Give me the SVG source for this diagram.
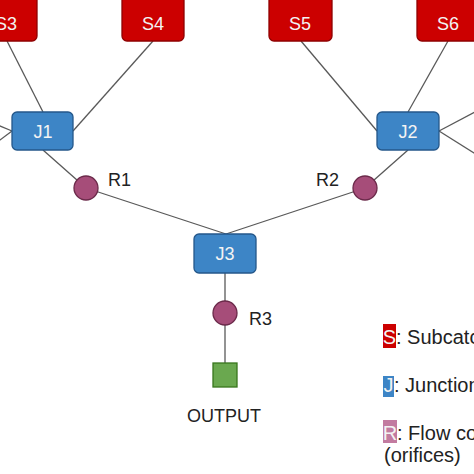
<svg xmlns="http://www.w3.org/2000/svg" width="474" height="474" viewBox="0 0 474 474">
<style>
.edge{stroke:#595959;stroke-width:1.3;fill:none}
.s{fill:#cc0000;stroke:#8f0000;stroke-width:1.3}
.j{fill:#3d85c6;stroke:#24578a;stroke-width:1.3}
.r{fill:#a64d79;stroke:#6b2a4a;stroke-width:1.3}
.o{fill:#6aa84f;stroke:#38761d;stroke-width:1.3}
.nt{font-family:"Liberation Sans",Arial,sans-serif;font-size:18px;fill:#f3f3f3;text-anchor:middle}
.lb{font-family:"Liberation Sans",Arial,sans-serif;font-size:18px;fill:#222}
.lg{font-family:"Liberation Sans",Arial,sans-serif;font-size:20px;fill:#222}
.lgl{font-family:"Liberation Sans",Arial,sans-serif;font-size:20px;fill:#f3f3f3;text-anchor:middle}
</style>
<rect width="474" height="474" fill="#fff"/>
<g id="connectors">
<line class="edge" x1="7" y1="41" x2="43" y2="112"/>
<line class="edge" x1="153" y1="41" x2="73" y2="131"/>
<line class="edge" x1="12" y1="131" x2="-12" y2="121"/>
<line class="edge" x1="12" y1="131" x2="-12" y2="149"/>
<line class="edge" x1="43" y1="150" x2="86" y2="188"/>
<line class="edge" x1="86" y1="188" x2="226" y2="234"/>
<line class="edge" x1="301" y1="41" x2="377" y2="131"/>
<line class="edge" x1="448" y1="41" x2="408" y2="112"/>
<line class="edge" x1="439" y1="131" x2="490" y2="104"/>
<line class="edge" x1="439" y1="131" x2="490" y2="163"/>
<line class="edge" x1="408" y1="150" x2="365" y2="188"/>
<line class="edge" x1="365" y1="188" x2="226" y2="234"/>
<line class="edge" x1="225" y1="273" x2="225" y2="313"/>
<line class="edge" x1="225" y1="313" x2="225" y2="363"/>
</g>
<g id="S3"><rect class="s" x="-25" y="-6" width="62" height="47" rx="5"/><text class="nt" x="6" y="30">S3</text></g>
<g id="S4"><rect class="s" x="122" y="-6" width="62" height="47" rx="5"/><text class="nt" x="153" y="30">S4</text></g>
<g id="S5"><rect class="s" x="269" y="-6" width="63" height="47" rx="5"/><text class="nt" x="300" y="30">S5</text></g>
<g id="S6"><rect class="s" x="417" y="-6" width="62" height="47" rx="5"/><text class="nt" x="448" y="30">S6</text></g>
<g id="J1"><rect class="j" x="12" y="112" width="61" height="38" rx="5"/><text class="nt" x="43" y="137.5">J1</text></g>
<g id="J2"><rect class="j" x="377" y="112" width="62" height="38" rx="5"/><text class="nt" x="408" y="137.5">J2</text></g>
<g id="J3"><rect class="j" x="194" y="234" width="62" height="39" rx="5"/><text class="nt" x="225" y="260">J3</text></g>
<g id="R1"><circle class="r" cx="86" cy="188" r="12"/><text class="lb" x="108" y="186">R1</text></g>
<g id="R2"><circle class="r" cx="365" cy="188" r="12"/><text class="lb" x="316" y="186">R2</text></g>
<g id="R3"><circle class="r" cx="225" cy="313" r="12"/><text class="lb" x="249" y="325">R3</text></g>
<g id="OUTPUT"><rect class="o" x="213" y="363" width="24" height="24"/><text class="lb" x="224" y="422" text-anchor="middle" font-size="20">OUTPUT</text></g>
<g id="legend">
<rect x="383" y="324" width="13" height="24" fill="#cc0000"/>
<text class="lgl" x="389.5" y="344">S</text>
<text class="lg" x="396" y="344">: Subcatchments</text>
<rect x="383" y="376" width="11" height="21" fill="#3d85c6"/>
<text class="lgl" x="388.5" y="392">J</text>
<text class="lg" x="394" y="392">: Junctions</text>
<rect x="383" y="420" width="14" height="23" fill="#c27ba0"/>
<text class="lgl" x="390" y="440">R</text>
<text class="lg" x="397" y="440">: Flow control</text>
<text class="lg" x="384" y="462">(orifices)</text>
</g>
</svg>
